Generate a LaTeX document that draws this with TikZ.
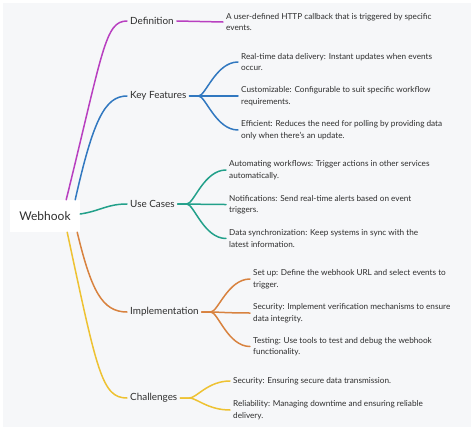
\documentclass[tikz,border=0pt]{standalone}
\usepackage{fontspec}
\setmainfont{Lato}
\usepackage{xcolor}

% branch colours
\definecolor{defcol}{HTML}{B83FC0}
\definecolor{featcol}{HTML}{3178C0}
\definecolor{usecol}{HTML}{22A08A}
\definecolor{implcol}{HTML}{D8823F}
\definecolor{chalcol}{HTML}{EEC232}
\definecolor{bgcol}{HTML}{F6F7F9}
\definecolor{txtcol}{HTML}{2E2E2E}

\begin{document}
\begin{tikzpicture}[x=1pt, y=-1pt, line cap=round,
    link/.style={line width=1.5pt},
    topic/.style={anchor=west, inner sep=3pt, text=txtcol, font=\fontsize{9.9}{11}\selectfont},
    leaf/.style={anchor=west, inner sep=3pt, align=left, text=txtcol, font=\fontsize{8.2}{11.5}\selectfont},
    rootbox/.style={fill=white, minimum width=70pt, minimum height=32pt, text=txtcol, font=\fontsize{12}{14}\selectfont}]

    % ==========================================
    % CANVAS (pixel coordinates, y grows downward)
    % ==========================================
    \useasboundingbox (0,0) rectangle (474,431);
    \fill[white] (0,0) rectangle (474,431);
    \fill[bgcol] (3,3) rectangle (471,427);

    \pgfmathsetmacro{\xTopic}{127}  % left edge of the second level
    \pgfmathsetmacro{\Lstub}{9}     % straight piece before a fork

    % Root
    \node[rootbox] (root) at (45,216) {Webhook};

    % Second level
    \node[topic] (def)  at (\xTopic, 21)  {Definition};
    \node[topic] (feat) at (\xTopic, 96)  {Key Features};
    \node[topic] (use)  at (\xTopic, 204) {Use Cases};
    \node[topic] (impl) at (\xTopic, 312) {Implementation};
    \node[topic] (chal) at (\xTopic, 398) {Challenges};

    % Leaves
    \node[leaf] (def1)  at (223, 22)    {A user-defined HTTP callback that is triggered by specific\\events.};

    \node[leaf] (feat1) at (238, 62)    {Real-time data delivery: Instant updates when events\\occur.};
    \node[leaf] (feat2) at (238, 96)    {Customizable: Configurable to suit specific workflow\\requirements.};
    \node[leaf] (feat3) at (238, 130)   {Efficient: Reduces the need for polling by providing data\\only when there's an update.};

    \node[leaf] (use1)  at (226, 170)   {Automating workflows: Trigger actions in other services\\automatically.};
    \node[leaf] (use2)  at (226, 204.5) {Notifications: Send real-time alerts based on event\\triggers.};
    \node[leaf] (use3)  at (226, 238.5) {Data synchronization: Keep systems in sync with the\\latest information.};

    \node[leaf] (impl1) at (250, 279)   {Set up: Define the webhook URL and select events to\\trigger.};
    \node[leaf] (impl2) at (250, 313)   {Security: Implement verification mechanisms to ensure\\data integrity.};
    \node[leaf] (impl3) at (250, 346.5) {Testing: Use tools to test and debug the webhook\\functionality.};

    \node[leaf] (chal1) at (230, 381)   {Security: Ensuring secure data transmission.};
    \node[leaf] (chal2) at (230, 410)   {Reliability: Managing downtime and ensuring reliable\\delivery.};

    % Start points on the root box
    \coordinate (rDef)  at ([xshift=-14pt]root.north east);
    \coordinate (rFeat) at ([xshift=-5pt]root.north east);
    \coordinate (rUse)  at ([yshift=2pt]root.east);
    \coordinate (rImpl) at ([xshift=-3pt]root.south east);
    \coordinate (rChal) at ([xshift=-13pt]root.south east);

    % Root to second level
    \draw[link, defcol]  (rDef)  .. controls +(37,-150) and +(-22,0) .. (def.west);
    \draw[link, featcol] (rFeat) .. controls +(18,-80)  and +(-22,0) .. (feat.west);
    \draw[link, usecol]  (rUse)  .. controls +(20,-3)   and +(-20,0) .. (use.west);
    \draw[link, implcol] (rImpl) .. controls +(14,58)   and +(-25,0) .. (impl.west);
    \draw[link, chalcol] (rChal) .. controls +(30,140)  and +(-25,0) .. (chal.west);

    % Second level to leaves
    \draw[link, defcol] (def.east) -- (def1.west);

    \foreach \c in {feat1,feat2,feat3}
        \draw[link, featcol] (feat.east) -- ++(\Lstub,0) .. controls +(7,0) and +(-22,0) .. (\c.west);
    \foreach \c in {use1,use2,use3}
        \draw[link, usecol] (use.east) -- ++(\Lstub,0) .. controls +(7,0) and +(-22,0) .. (\c.west);
    \foreach \c in {impl1,impl2,impl3}
        \draw[link, implcol] (impl.east) -- ++(\Lstub,0) .. controls +(7,0) and +(-22,0) .. (\c.west);
    \foreach \c in {chal1,chal2}
        \draw[link, chalcol] (chal.east) -- ++(\Lstub,0) .. controls +(7,0) and +(-22,0) .. (\c.west);

\end{tikzpicture}
\end{document}
